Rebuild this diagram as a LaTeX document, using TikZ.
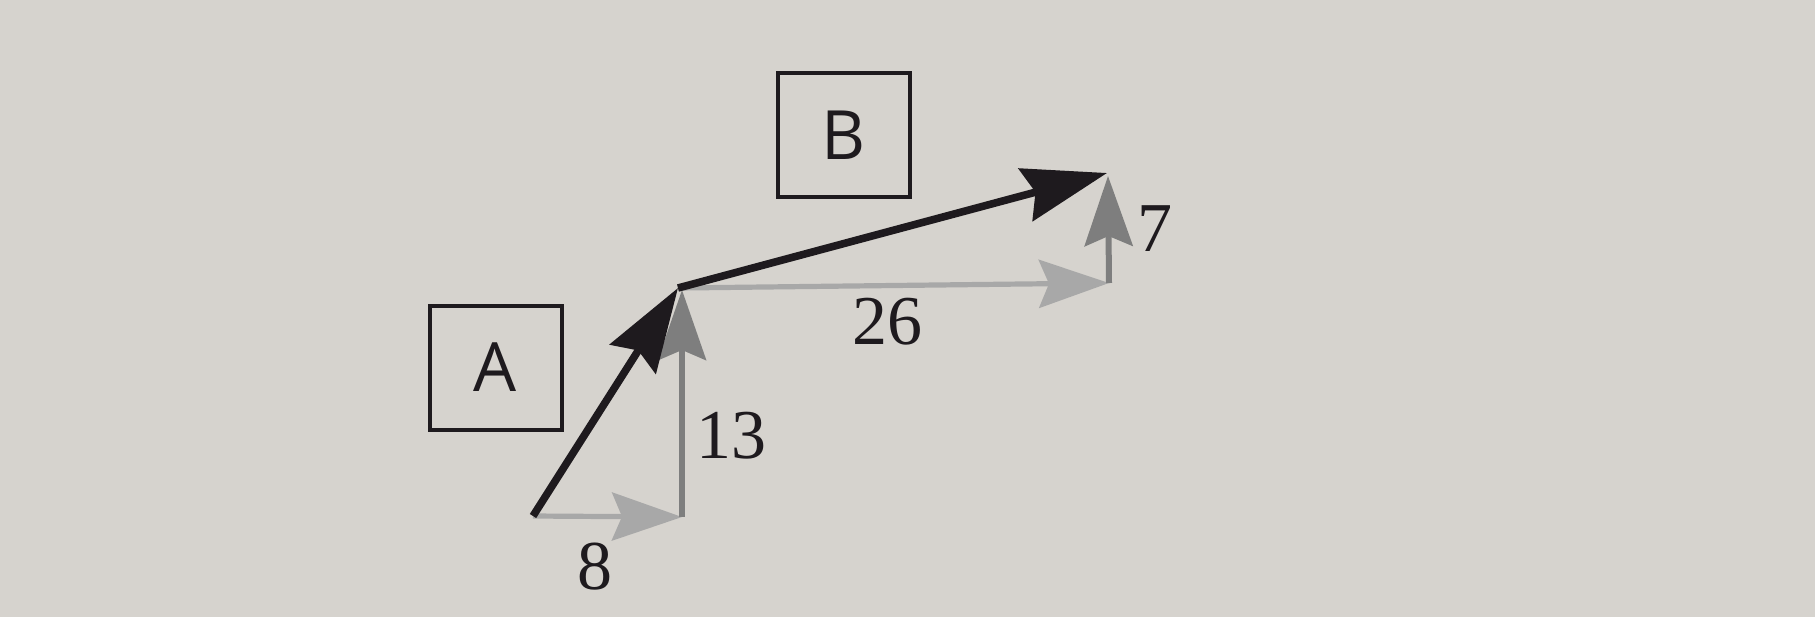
\documentclass[tikz,border=0pt]{standalone}
\usepackage{fontspec}
\setsansfont{Open Sans}
\newfontfamily\digitfont{Liberation Serif}
\usetikzlibrary{arrows.meta}
\definecolor{paper}{HTML}{D6D3CE}
\definecolor{ink}{HTML}{1E1A1E}
\definecolor{midgray}{HTML}{7E7E7E}
\definecolor{lightgray}{HTML}{A8A8A8}
\begin{document}
\begin{tikzpicture}[x=0.5pt,y=-0.5pt,
  lbl/.style={font=\digitfont\fontsize{35}{35}\selectfont, text=ink, inner sep=0pt},
  boxnode/.style={draw=ink, line width=2pt, minimum width=66pt, minimum height=62pt, inner sep=0pt, font=\sffamily\fontsize{34}{34}\selectfont, text=ink},
  vec/.style={line width=3.8pt, draw=ink, -{Stealth[length=42pt,width=27pt,inset=5pt]}},
  comp/.style={line width=3pt, -{Stealth[length=35pt,width=24pt,inset=5pt]}}]
\fill[paper] (0,0) rectangle (1815,617);
\useasboundingbox (0,0) rectangle (1815,617);
% points
\coordinate (O) at (533,516);
\coordinate (R) at (682,517);
\coordinate (P) at (678,288);
\coordinate (S) at (1109,283);
\coordinate (Q) at (1107,173);
% component vectors
\draw[comp, lightgray, line width=2.6pt] (O) -- (R);
\draw[comp, midgray] (R) -- (682,290);
\draw[comp, lightgray, line width=2.6pt] (P) -- (S);
\draw[comp, midgray] (S) -- (1108,176);
% resultant vectors
\draw[vec] (O) -- (P);
\draw[vec] (P) -- (Q);
% boxes
\node[boxnode] (A) at (495.5,367.5) {A};
\node[boxnode] (B) at (844,135) {B};
% labels
\node[lbl] (l8) at (595,567) {8};
\node[lbl] (l13) at (731,436) {13};
\node[lbl] (l26) at (887,322) {26};
\node[lbl] (l7) at (1155,229) {7};
\end{tikzpicture}
\end{document}
